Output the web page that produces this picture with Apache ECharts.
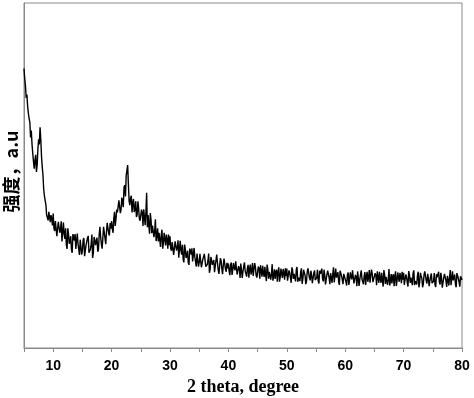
<!DOCTYPE html>
<html>
<head>
<meta charset="utf-8">
<style>
  html, body { margin: 0; padding: 0; background: #fff; }
  #main { width: 474px; height: 398px; }
</style>
<script src="https://cdn.jsdelivr.net/npm/echarts@6/dist/echarts.min.js"></script>
</head>
<body>
<div id="main"></div>
<script>
// 2 theta (degree), one row per 5 degrees
var theta = [
  5, 5.125, 5.25, 5.375, 5.5, 5.625, 5.75, 5.875, 6, 6.125, 6.25, 6.375, 6.5, 6.625, 6.75, 6.875, 7, 7.125, 7.25, 7.375,
  7.5, 7.625, 7.75, 7.875, 8, 8.125, 8.25, 8.375, 8.5, 8.625, 8.75, 8.875, 9, 9.125, 9.25, 9.375, 9.5, 9.625, 9.75, 9.875,
  10, 10.125, 10.25, 10.375, 10.5, 10.625, 10.75, 10.875, 11, 11.125, 11.25, 11.375, 11.5, 11.625, 11.75, 11.875, 12, 12.125, 12.25, 12.375,
  12.5, 12.625, 12.75, 12.875, 13, 13.125, 13.25, 13.375, 13.5, 13.625, 13.75, 13.875, 14, 14.125, 14.25, 14.375, 14.5, 14.625, 14.75, 14.875,
  15, 15.125, 15.25, 15.375, 15.5, 15.625, 15.75, 15.875, 16, 16.125, 16.25, 16.375, 16.5, 16.625, 16.75, 16.875, 17, 17.125, 17.25, 17.375,
  17.5, 17.625, 17.75, 17.875, 18, 18.125, 18.25, 18.375, 18.5, 18.625, 18.75, 18.875, 19, 19.125, 19.25, 19.375, 19.5, 19.625, 19.75, 19.875,
  20, 20.125, 20.25, 20.375, 20.5, 20.625, 20.75, 20.875, 21, 21.125, 21.25, 21.375, 21.5, 21.625, 21.75, 21.875, 22, 22.125, 22.25, 22.375,
  22.5, 22.625, 22.75, 22.875, 23, 23.125, 23.25, 23.375, 23.5, 23.625, 23.75, 23.875, 24, 24.125, 24.25, 24.375, 24.5, 24.625, 24.75, 24.875,
  25, 25.125, 25.25, 25.375, 25.5, 25.625, 25.75, 25.875, 26, 26.125, 26.25, 26.375, 26.5, 26.625, 26.75, 26.875, 27, 27.125, 27.25, 27.375,
  27.5, 27.625, 27.75, 27.875, 28, 28.125, 28.25, 28.375, 28.5, 28.625, 28.75, 28.875, 29, 29.125, 29.25, 29.375, 29.5, 29.625, 29.75, 29.875,
  30, 30.125, 30.25, 30.375, 30.5, 30.625, 30.75, 30.875, 31, 31.125, 31.25, 31.375, 31.5, 31.625, 31.75, 31.875, 32, 32.125, 32.25, 32.375,
  32.5, 32.625, 32.75, 32.875, 33, 33.125, 33.25, 33.375, 33.5, 33.625, 33.75, 33.875, 34, 34.125, 34.25, 34.375, 34.5, 34.625, 34.75, 34.875,
  35, 35.125, 35.25, 35.375, 35.5, 35.625, 35.75, 35.875, 36, 36.125, 36.25, 36.375, 36.5, 36.625, 36.75, 36.875, 37, 37.125, 37.25, 37.375,
  37.5, 37.625, 37.75, 37.875, 38, 38.125, 38.25, 38.375, 38.5, 38.625, 38.75, 38.875, 39, 39.125, 39.25, 39.375, 39.5, 39.625, 39.75, 39.875,
  40, 40.125, 40.25, 40.375, 40.5, 40.625, 40.75, 40.875, 41, 41.125, 41.25, 41.375, 41.5, 41.625, 41.75, 41.875, 42, 42.125, 42.25, 42.375,
  42.5, 42.625, 42.75, 42.875, 43, 43.125, 43.25, 43.375, 43.5, 43.625, 43.75, 43.875, 44, 44.125, 44.25, 44.375, 44.5, 44.625, 44.75, 44.875,
  45, 45.125, 45.25, 45.375, 45.5, 45.625, 45.75, 45.875, 46, 46.125, 46.25, 46.375, 46.5, 46.625, 46.75, 46.875, 47, 47.125, 47.25, 47.375,
  47.5, 47.625, 47.75, 47.875, 48, 48.125, 48.25, 48.375, 48.5, 48.625, 48.75, 48.875, 49, 49.125, 49.25, 49.375, 49.5, 49.625, 49.75, 49.875,
  50, 50.125, 50.25, 50.375, 50.5, 50.625, 50.75, 50.875, 51, 51.125, 51.25, 51.375, 51.5, 51.625, 51.75, 51.875, 52, 52.125, 52.25, 52.375,
  52.5, 52.625, 52.75, 52.875, 53, 53.125, 53.25, 53.375, 53.5, 53.625, 53.75, 53.875, 54, 54.125, 54.25, 54.375, 54.5, 54.625, 54.75, 54.875,
  55, 55.125, 55.25, 55.375, 55.5, 55.625, 55.75, 55.875, 56, 56.125, 56.25, 56.375, 56.5, 56.625, 56.75, 56.875, 57, 57.125, 57.25, 57.375,
  57.5, 57.625, 57.75, 57.875, 58, 58.125, 58.25, 58.375, 58.5, 58.625, 58.75, 58.875, 59, 59.125, 59.25, 59.375, 59.5, 59.625, 59.75, 59.875,
  60, 60.125, 60.25, 60.375, 60.5, 60.625, 60.75, 60.875, 61, 61.125, 61.25, 61.375, 61.5, 61.625, 61.75, 61.875, 62, 62.125, 62.25, 62.375,
  62.5, 62.625, 62.75, 62.875, 63, 63.125, 63.25, 63.375, 63.5, 63.625, 63.75, 63.875, 64, 64.125, 64.25, 64.375, 64.5, 64.625, 64.75, 64.875,
  65, 65.125, 65.25, 65.375, 65.5, 65.625, 65.75, 65.875, 66, 66.125, 66.25, 66.375, 66.5, 66.625, 66.75, 66.875, 67, 67.125, 67.25, 67.375,
  67.5, 67.625, 67.75, 67.875, 68, 68.125, 68.25, 68.375, 68.5, 68.625, 68.75, 68.875, 69, 69.125, 69.25, 69.375, 69.5, 69.625, 69.75, 69.875,
  70, 70.125, 70.25, 70.375, 70.5, 70.625, 70.75, 70.875, 71, 71.125, 71.25, 71.375, 71.5, 71.625, 71.75, 71.875, 72, 72.125, 72.25, 72.375,
  72.5, 72.625, 72.75, 72.875, 73, 73.125, 73.25, 73.375, 73.5, 73.625, 73.75, 73.875, 74, 74.125, 74.25, 74.375, 74.5, 74.625, 74.75, 74.875,
  75, 75.125, 75.25, 75.375, 75.5, 75.625, 75.75, 75.875, 76, 76.125, 76.25, 76.375, 76.5, 76.625, 76.75, 76.875, 77, 77.125, 77.25, 77.375,
  77.5, 77.625, 77.75, 77.875, 78, 78.125, 78.25, 78.375, 78.5, 78.625, 78.75, 78.875, 79, 79.125, 79.25, 79.375, 79.5, 79.625, 79.75, 79.875,
  80
]

// intensity (a.u), same order as theta
var intensity = [
  81.0, 78.0, 76.0, 72.5, 73.5, 70.0, 68.0, 66.5, 65.5, 61.0, 63.0, 59.0, 58.5, 54.0, 52.0, 54.5, 56.0, 51.0, 53.0, 57.5,
  60.5, 59.0, 64.0, 60.5, 55.5, 52.5, 50.0, 46.0, 44.0, 43.5, 41.5, 38.5, 39.0, 37.0, 39.5, 38.0, 36.5, 38.5, 37.5, 35.5,
  39.0, 34.7, 33.9, 36.8, 36.3, 32.4, 31.9, 36.6, 36.2, 33.4, 34.4, 36.7, 30.9, 31.1, 36.4, 33.0, 31.6, 34.7, 29.9, 28.7,
  34.7, 33.0, 30.2, 30.9, 32.4, 28.5, 27.6, 33.0, 32.3, 31.1, 33.0, 28.7, 28.3, 33.2, 30.2, 28.6, 27.0, 31.4, 31.6, 27.1,
  28.2, 31.3, 31.9, 26.6, 26.5, 29.8, 30.2, 31.9, 32.5, 27.6, 27.5, 28.6, 30.1, 32.9, 26.1, 27.6, 32.2, 31.3, 29.8, 30.1,
  32.0, 27.9, 28.5, 32.8, 35.1, 32.3, 30.1, 28.8, 31.8, 35.1, 34.6, 31.8, 30.1, 33.7, 36.3, 36.0, 33.2, 32.6, 36.2, 34.6,
  36.8, 34.6, 33.4, 37.6, 39.5, 35.4, 37.4, 40.1, 39.3, 38.9, 42.8, 43.1, 39.1, 40.2, 43.6, 43.5, 40.8, 46.6, 47.2, 43.9,
  50.0, 51.5, 53.0, 47.5, 42.6, 41.4, 43.5, 44.1, 39.3, 41.9, 43.2, 39.4, 40.4, 42.5, 38.0, 38.6, 42.5, 40.6, 37.5, 36.9,
  36.4, 40.1, 39.2, 35.4, 40.2, 37.9, 35.6, 39.5, 45.0, 35.0, 38.5, 35.6, 33.1, 39.1, 37.1, 33.3, 35.5, 35.9, 32.1, 33.9,
  37.3, 31.0, 32.6, 34.7, 30.9, 33.4, 33.9, 29.3, 32.8, 34.3, 28.8, 30.5, 33.4, 31.5, 29.7, 32.9, 31.3, 28.8, 32.9, 29.8,
  32.4, 28.8, 28.2, 30.7, 30.3, 27.0, 26.7, 30.9, 30.6, 28.2, 29.1, 31.2, 26.2, 26.5, 31.1, 28.3, 27.1, 29.9, 25.8, 24.8,
  30.0, 28.6, 26.1, 26.8, 28.2, 24.8, 24.1, 28.8, 28.2, 27.1, 28.9, 25.1, 24.8, 29.0, 26.4, 25.0, 23.6, 27.4, 27.5, 23.6,
  24.8, 27.3, 27.6, 23.4, 23.1, 25.7, 26.0, 27.3, 27.6, 23.6, 23.4, 24.2, 25.3, 27.4, 21.8, 22.9, 26.4, 25.5, 24.1, 24.2,
  25.5, 22.0, 22.3, 25.5, 27.1, 24.7, 22.7, 21.5, 23.7, 26.0, 25.4, 23.0, 21.4, 24.0, 25.9, 25.4, 22.8, 22.1, 24.7, 23.1,
  24.5, 22.3, 21.1, 24.1, 24.8, 21.2, 22.7, 24.6, 23.3, 22.5, 25.1, 25.2, 21.3, 21.4, 23.7, 23.1, 20.3, 24.5, 24.0, 20.3,
  22.3, 23.7, 24.8, 22.3, 21.5, 20.7, 23.1, 24.1, 20.4, 22.9, 24.2, 21.3, 22.4, 24.6, 20.9, 21.4, 24.6, 23.5, 21.0, 20.4,
  20.5, 23.6, 23.0, 20.1, 24.0, 22.4, 20.7, 23.8, 21.6, 20.6, 23.5, 21.2, 19.4, 24.2, 22.9, 20.1, 22.1, 22.6, 19.8, 21.5,
  24.3, 19.5, 21.0, 22.8, 20.0, 22.1, 22.7, 19.2, 22.1, 23.4, 19.2, 20.6, 23.0, 21.5, 20.3, 22.9, 21.8, 19.8, 23.1, 20.8,
  23.0, 19.5, 19.7, 22.5, 21.8, 20.3, 18.9, 23.4, 22.4, 20.0, 21.5, 21.6, 19.3, 22.7, 23.5, 19.2, 20.4, 20.7, 19.4, 22.0,
  23.1, 18.6, 20.0, 22.7, 21.8, 21.1, 18.5, 19.4, 22.1, 23.1, 22.9, 20.4, 19.6, 22.4, 21.1, 18.8, 18.9, 21.7, 22.5, 19.7,
  19.9, 20.4, 22.7, 19.4, 18.7, 22.4, 21.5, 21.0, 23.0, 20.0, 19.3, 22.7, 21.2, 18.4, 18.1, 21.3, 22.4, 21.9, 20.3, 18.5,
  21.7, 20.4, 18.9, 21.5, 23.4, 19.0, 19.4, 23.0, 20.4, 19.9, 22.0, 19.2, 18.3, 22.4, 22.5, 20.9, 19.8, 18.5, 21.5, 21.9,
  21.4, 19.2, 18.1, 21.2, 21.9, 18.3, 19.9, 21.9, 20.6, 19.9, 22.5, 22.6, 18.7, 18.9, 21.2, 20.6, 17.9, 22.2, 21.7, 18.0,
  19.9, 21.3, 22.5, 20.0, 19.2, 18.5, 20.9, 22.0, 18.3, 20.8, 22.1, 19.2, 20.4, 22.6, 18.9, 19.4, 22.7, 21.6, 19.1, 18.6,
  18.6, 21.7, 21.1, 18.2, 22.2, 20.6, 18.9, 22.1, 19.9, 18.9, 21.8, 19.6, 17.8, 22.6, 21.3, 18.6, 20.6, 21.1, 18.3, 20.0,
  22.9, 18.1, 19.6, 21.4, 18.7, 20.8, 21.4, 17.9, 20.9, 22.2, 18.0, 19.5, 21.9, 20.4, 19.2, 21.8, 20.7, 18.8, 22.1, 19.8,
  21.8, 18.3, 18.5, 21.3, 20.6, 19.1, 17.8, 22.3, 21.3, 18.9, 20.4, 20.5, 18.2, 21.7, 22.5, 18.2, 19.4, 19.7, 18.4, 21.0,
  22.1, 17.6, 19.0, 21.8, 20.9, 20.2, 17.6, 18.5, 21.2, 22.2, 22.0, 19.5, 18.7, 21.5, 20.2, 17.9, 18.0, 20.8, 21.6, 18.8,
  18.9, 19.4, 21.7, 18.4, 17.7, 21.4, 20.5, 20.0, 22.1, 19.1, 18.4, 21.8, 20.3, 17.5, 17.2, 20.4, 21.5, 21.0, 19.5, 17.7,
  20.9, 19.6, 18.1, 20.7, 22.6, 18.2, 18.6, 22.2, 19.6, 19.2, 21.3, 18.5, 17.6, 21.7, 21.8, 20.2, 19.1, 17.8, 20.8, 21.2,
  19.7
]

var xTicks = [10, 20, 30, 40, 50, 60, 70, 80]

var myChart = echarts.init(document.getElementById('main'))

var points = theta.map(function (t, i) { return [t, intensity[i]] })

var options = {
    animation: false,
    grid: {
        left: 24, right: 12, top: 3, bottom: 50,
        containLabel: false,
        outerBoundsMode: 'none',
        show: true,
        borderColor: '#8a8a8a',
        borderWidth: 1
    },
    xAxis: {
        type: 'value',
        min: 5, max: 80, interval: 5,
        name: '2 theta, degree',
        nameLocation: 'middle',
        nameGap: 27,
        nameTextStyle: { fontFamily: 'Liberation Serif', fontWeight: 'bold', fontSize: 18, color: '#000' },
        axisLine: { lineStyle: { color: '#8a8a8a' } },
        axisTick: { length: 4, lineStyle: { color: '#8a8a8a' } },
        axisLabel: {
            margin: 11,
            fontFamily: 'Liberation Sans', fontWeight: 'bold', fontSize: 14, color: '#000',
            formatter: function (v) { return xTicks.indexOf(v) >= 0 ? String(v) : '' }
        },
        splitLine: { show: false }
    },
    yAxis: {
        type: 'value',
        min: 0, max: 100,
        name: '强度，a.u',
        nameLocation: 'middle',
        nameGap: 4,
        nameTextStyle: { fontFamily: 'Noto Sans CJK SC', fontWeight: 'bold', fontSize: 18, color: '#000', padding: [0, 0, 0, 8] },
        axisLine: { show: true, lineStyle: { color: '#8a8a8a' } },
        axisTick: { show: false },
        axisLabel: { show: false },
        splitLine: { show: false }
    },
    series: [{
        type: 'line',
        data: points,
        showSymbol: false,
        sampling: false,
        lineStyle: { color: '#000', width: 1.4, join: 'bevel' }
    }]
}

myChart.setOption(options)
</script>
</body>
</html>
